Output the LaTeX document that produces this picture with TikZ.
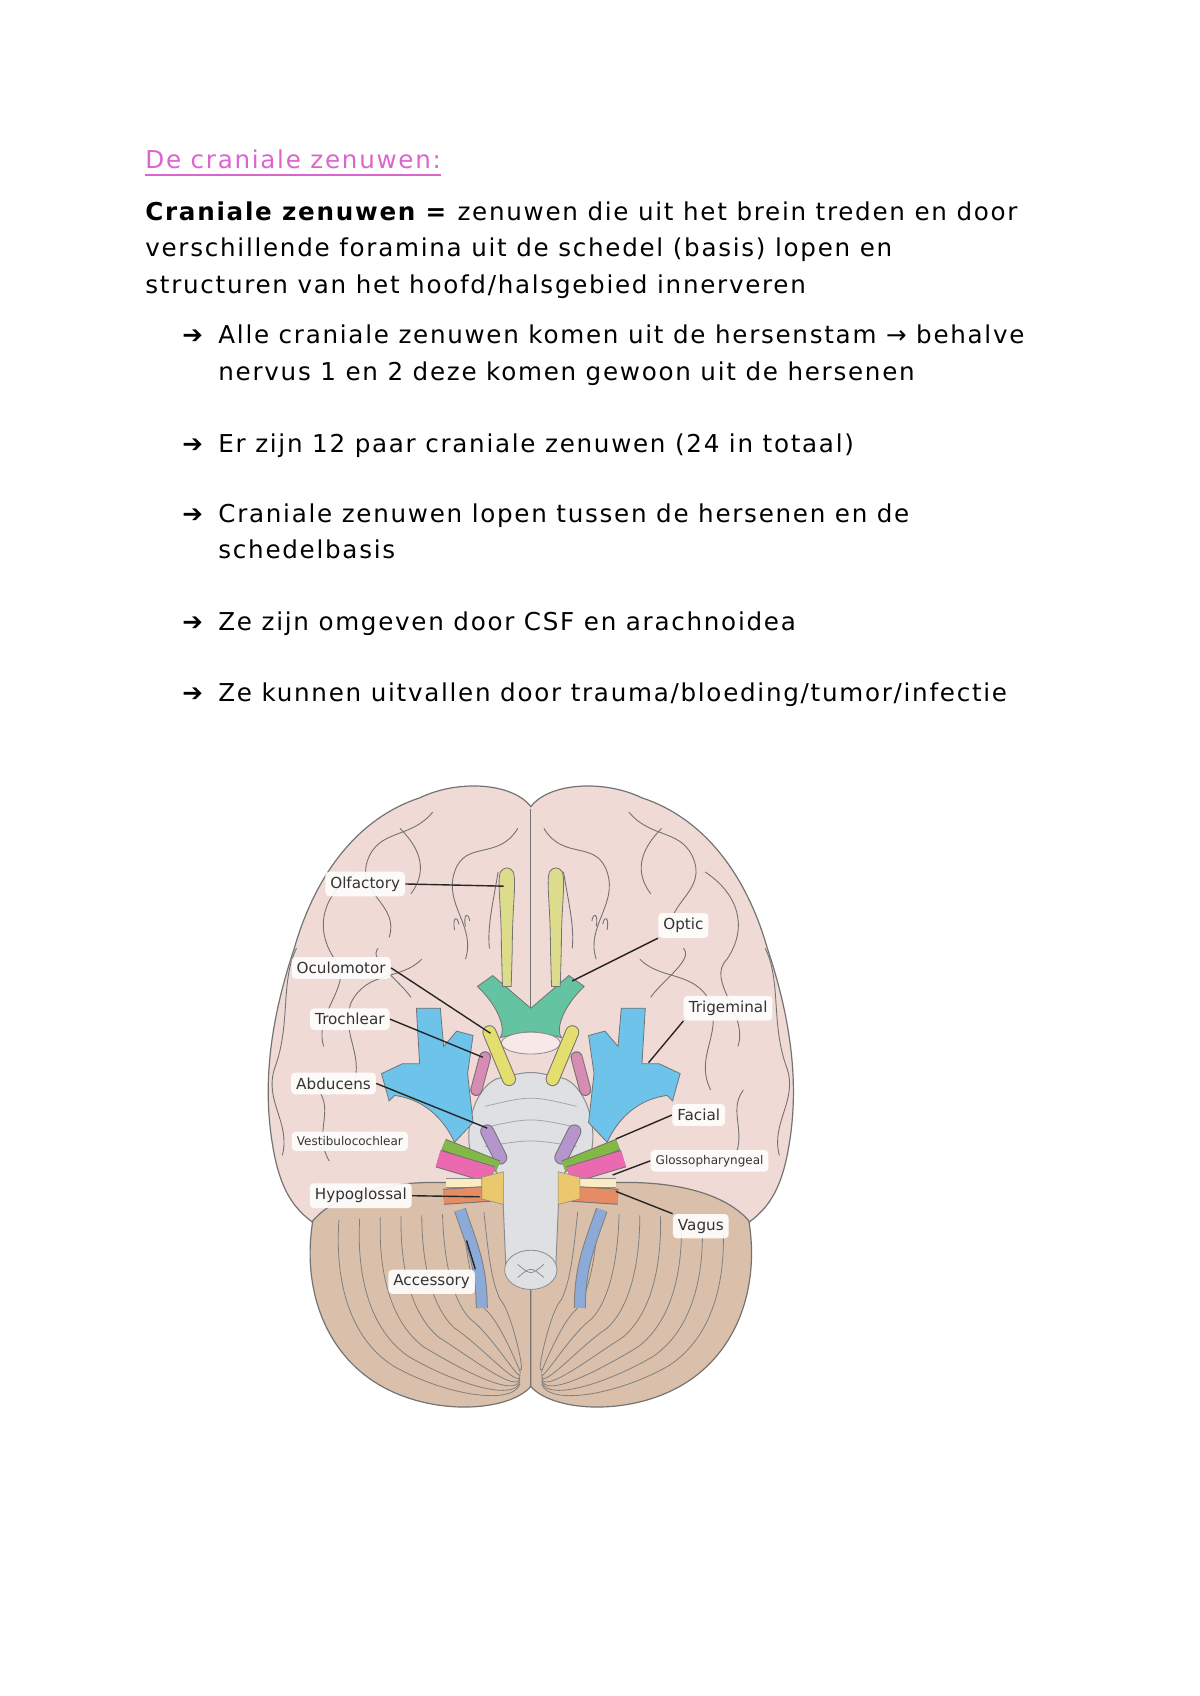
\documentclass[tikz,border=0pt]{standalone}
\usepackage{fontspec}
\setmainfont{DejaVu Sans}
\newfontfamily\spaced[LetterSpace=7]{DejaVu Sans}
\definecolor{titc}{RGB}{220,100,205}
\definecolor{pinkb}{RGB}{240,218,214}
\definecolor{tanb}{RGB}{218,192,170}
\definecolor{stem}{RGB}{222,224,228}
\definecolor{optc}{RGB}{100,195,160}
\definecolor{olf}{RGB}{220,220,140}
\definecolor{ocu}{RGB}{228,222,110}
\definecolor{troc}{RGB}{215,140,180}
\definecolor{trig}{RGB}{110,195,235}
\definecolor{abdc}{RGB}{180,150,205}
\definecolor{facc}{RGB}{130,185,70}
\definecolor{vesc}{RGB}{235,105,175}
\definecolor{gloc}{RGB}{250,235,195}
\definecolor{vagc}{RGB}{230,140,100}
\definecolor{hypc}{RGB}{235,200,110}
\definecolor{accc}{RGB}{140,170,215}
\begin{document}
\begin{tikzpicture}[x=0.545pt,y=-0.545pt,
  body/.style={anchor=base west,inner sep=0,font=\spaced\fontsize{12.3}{14}\selectfont},
  lab/.style={fill=white,fill opacity=0.9,text opacity=1,rounded corners=2pt,inner sep=2.5pt,font=\fontsize{7.6}{9}\selectfont,text=black!80},
  slab/.style={lab,font=\fontsize{6}{8}\selectfont},
  lead/.style={draw=black!85,line width=0.7pt},
  gyr/.style={draw=black!55,line width=0.45pt}]
\useasboundingbox (0,0) rectangle (1100.9,1556);
% ---------- text ----------
\node[body,text=titc] (title) at (133,155) {De craniale zenuwen: };
\draw[titc,line width=1pt] ([yshift=-3]title.base west) -- ([yshift=-3]title.base east);
\node[body] (l1) at (133,202) {\textbf{Craniale zenuwen =} zenuwen die uit het brein treden en door};
\node[body] (l2) at (133,235) {verschillende foramina uit de schedel (basis) lopen en};
\node[body] (l3) at (133,269) {structuren van het hoofd/halsgebied innerveren};
\foreach \y/\t [count=\i] in {315/{Alle craniale zenuwen komen uit de hersenstam → behalve},
  415/{Er zijn 12 paar craniale zenuwen (24 in totaal)},
  479/{Craniale zenuwen lopen tussen de hersenen en de},
  578/{Ze zijn omgeven door CSF en arachnoidea},
  644/{Ze kunnen uitvallen door trauma/bloeding/tumor/infectie}}
  {\node[body] (ar\i) at (167,\y) {\textbf{➔}};
   \node[body] (b\i) at (200,\y) {\t};}
\node[body] (b1b) at (200,349) {nervus 1 en 2 deze komen gewoon uit de hersenen};
\node[body] (b3b) at (200,512) {schedelbasis};
% ---------- brain ----------
\fill[pinkb,draw=black!55,line width=0.6pt]
 (487,740) .. controls (470,718) and (420,715) .. (385,732)
 .. controls (330,750) and (290,800) .. (270,870)
 .. controls (250,930) and (240,990) .. (250,1050)
 .. controls (258,1100) and (275,1115) .. (300,1130)
 -- (674,1130)
 .. controls (699,1115) and (716,1100) .. (724,1050)
 .. controls (734,990) and (724,930) .. (704,870)
 .. controls (684,800) and (644,750) .. (589,732)
 .. controls (554,715) and (504,718) .. (487,740) -- cycle;
\draw[gyr] (487,742) -- (487,960);
\foreach \s in {1,-1}{
 \begin{scope}[shift={(487,0)},xscale=\s]
 \draw[gyr] (-12,760) .. controls (-30,790) and (-60,770) .. (-70,800) .. controls (-80,830) and (-50,850) .. (-60,880);
 \draw[gyr] (-90,745) .. controls (-110,770) and (-140,760) .. (-150,790) .. controls (-160,820) and (-120,830) .. (-130,860);
 \draw[gyr] (-160,800) .. controls (-190,820) and (-200,850) .. (-180,880) .. controls (-160,900) and (-200,930) .. (-190,960);
 \draw[gyr] (-215,870) .. controls (-230,900) and (-220,940) .. (-235,980) .. controls (-245,1010) and (-220,1030) .. (-228,1060);
 \draw[gyr] (-100,880) .. controls (-120,900) and (-150,890) .. (-165,920) .. controls (-175,950) and (-150,970) .. (-165,1000);
 \draw[gyr] (-30,800) .. controls (-35,830) and (-40,850) .. (-38,870);
 \draw[gyr] (-60,850) .. controls (-62,840) and (-58,835) .. (-56,845);
 \draw[gyr] (-70,853) .. controls (-72,843) and (-68,838) .. (-66,848);
 \draw[gyr] (-140,870) .. controls (-150,880) and (-120,900) .. (-110,915);
 \draw[gyr] (-195,1000) .. controls (-180,1020) and (-200,1040) .. (-185,1065);
 \draw[gyr] (-120,760) .. controls (-100,780) and (-95,800) .. (-110,820);
 \end{scope}}
% cerebellum
\foreach \s in {1,-1}{
 \begin{scope}[shift={(487,0)},xscale=\s]
 \fill[tanb,draw=black!55,line width=0.6pt] (0,1272) .. controls (-20,1295) and (-90,1300) .. (-140,1270)
   .. controls (-190,1240) and (-210,1180) .. (-200,1120)
   .. controls (-170,1085) and (-90,1075) .. (0,1095) -- cycle;
 \foreach \k in {0.2,0.3,...,0.95}
   \draw[black!50,line width=0.4pt] (-10,{1272-(1-\k)*20}) .. controls ({-20*\k},{1272+22*\k-(1-\k)*15}) and ({-90*\k},{1290*\k+1180*(1-\k)}) .. ({-140*\k},{1262*\k+1175*(1-\k)})
     .. controls ({-185*\k},{1235*\k+1160*(1-\k)}) and ({-200*\k},{1180*\k+1130*(1-\k)}) .. ({-195*\k-5*(1-\k)},{1120*\k+1110*(1-\k)});
 \end{scope}}
% brainstem
\fill[stem,draw=black!45,line width=0.5pt] (455,990) .. controls (487,982) and (487,982) .. (519,990)
  .. controls (540,1000) and (550,1040) .. (540,1065)
  .. controls (520,1070) and (515,1075) .. (513,1090)
  -- (510,1160) -- (464,1160) -- (461,1090)
  .. controls (459,1075) and (454,1070) .. (434,1065)
  .. controls (424,1040) and (434,1000) .. (455,990) -- cycle;
\draw[black!35] (445,1015) .. controls (487,1005) .. (529,1015);
\draw[black!35] (442,1035) .. controls (487,1025) .. (532,1035);
\draw[black!35] (445,1052) .. controls (487,1045) .. (529,1052);
\fill[stem,draw=black!45] (487,1165) ellipse (24 and 18);
\draw[black!45,line width=0.4pt] (475,1160) .. controls (487,1170) .. (499,1160) (475,1172) .. controls (487,1162) .. (499,1172);
% optic chiasm
\fill[optc,draw=black!55] (438,905) -- (452,895) -- (487,925) -- (522,895) -- (536,905)
  .. controls (515,925) and (510,945) .. (515,952) .. controls (487,945) .. (459,952)
  .. controls (464,945) and (459,925) .. (438,905) -- cycle;
\fill[pinkb!60!white,draw=black!45,line width=0.4pt] (487,957) ellipse (27 and 10);
% olfactory
\foreach \x in {465,510}
 \fill[olf,draw=black!55,line width=0.4pt] (\x-6,800) .. controls (\x-9,810) and (\x-5,830) .. (\x-5,870) -- (\x-4,905) -- (\x+4,905) -- (\x+5,870) .. controls (\x+5,830) and (\x+9,810) .. (\x+6,800) .. controls (\x+3,795) and (\x-3,795) .. (\x-6,800) -- cycle;
\foreach \s in {1,-1}{
 \begin{scope}[shift={(487,0)},xscale=\s]
 \draw[line width=7pt,black!55,line cap=round] (-20,990) -- (-38,947);
 \draw[line width=6pt,ocu,line cap=round] (-20,990) -- (-38,947);
 \draw[line width=6pt,black!55,line cap=round] (-50,1000) -- (-42,970);
 \draw[line width=5pt,troc,line cap=round] (-50,1000) -- (-42,970);
 \fill[trig,draw=black!55,line width=0.4pt]
   (-105,925) -- (-83,925) -- (-80,960) -- (-68,946) -- (-53,950) -- (-58,985) -- (-53,1030) -- (-70,1048)
   .. controls (-82,1022) and (-102,1008) .. (-125,1005) -- (-130,1010) -- (-137,985) -- (-118,976) -- (-102,976) -- cycle;
 \draw[line width=7pt,black!55,line cap=round] (-40,1038) -- (-28,1062);
 \draw[line width=6pt,abdc,line cap=round] (-40,1038) -- (-28,1062);
 \draw[line width=6pt,black!55] (-80,1050) -- (-30,1070);
 \draw[line width=5pt,facc] (-80,1050) -- (-30,1070);
 \draw[line width=9pt,black!55] (-85,1063) -- (-35,1078);
 \draw[line width=8pt,vesc] (-85,1063) -- (-35,1078);
 \draw[line width=5pt,black!45] (-78,1085) -- (-35,1085);
 \draw[line width=4pt,gloc] (-78,1085) -- (-35,1085);
 \draw[line width=8pt,black!55] (-80,1098) -- (-35,1095);
 \draw[line width=7pt,vagc] (-80,1098) -- (-35,1095);
 \fill[hypc,draw=black!45,line width=0.3pt] (-45,1080) -- (-25,1075) -- (-25,1105) -- (-45,1100) -- cycle;
 \draw[line width=6pt,black!50] (-65,1110) .. controls (-55,1140) and (-45,1160) .. (-45,1200);
 \draw[line width=5pt,accc] (-65,1110) .. controls (-55,1140) and (-45,1160) .. (-45,1200);
 \end{scope}}
% ---------- labels ----------
\coordinate (pOlf) at (462,813);
\coordinate (pOpt) at (525,900);
\coordinate (pOcu) at (450,948);
\coordinate (pTro) at (443,970);
\coordinate (pTri) at (595,975);
\coordinate (pAbd) at (447,1035);
\coordinate (pFac) at (565,1045);
\coordinate (pGlo) at (562,1078);
\coordinate (pHyp) at (440,1098);
\coordinate (pVag) at (565,1093);
\coordinate (pAcc) at (428,1138);
\node[lab] (Olf) at (335,811) {Olfactory};
\node[lab] (Opt) at (627,849) {Optic};
\node[lab] (Ocu) at (313,888) {Oculomotor};
\node[lab] (Tro) at (321,935) {Trochlear};
\node[lab] (Tri) at (668,925) {Trigeminal};
\node[lab] (Abd) at (306,994) {Abducens};
\node[lab] (Fac) at (641,1023) {Facial};
\node[slab] (Ves) at (321,1047) {Vestibulocochlear};
\node[slab] (Glo) at (651,1065) {Glossopharyngeal};
\node[lab] (Hyp) at (331,1097) {Hypoglossal};
\node[lab] (Vag) at (643,1125) {Vagus};
\node[lab] (Acc) at (396,1176) {Accessory};
\draw[lead] (Olf.east) -- (pOlf);
\draw[lead] (Opt.south west) -- (pOpt);
\draw[lead] (Ocu.east) -- (pOcu);
\draw[lead] (Tro.east) -- (pTro);
\draw[lead] (Tri.south west) -- (pTri);
\draw[lead] (Abd.east) -- (pAbd);
\draw[lead] (Fac.west) -- (pFac);
\draw[lead] (Glo.west) -- (pGlo);
\draw[lead] (Hyp.east) -- (pHyp);
\draw[lead] (Vag.north west) -- (pVag);
\draw[lead] (Acc.north east) -- (pAcc);
\end{tikzpicture}
\end{document}
